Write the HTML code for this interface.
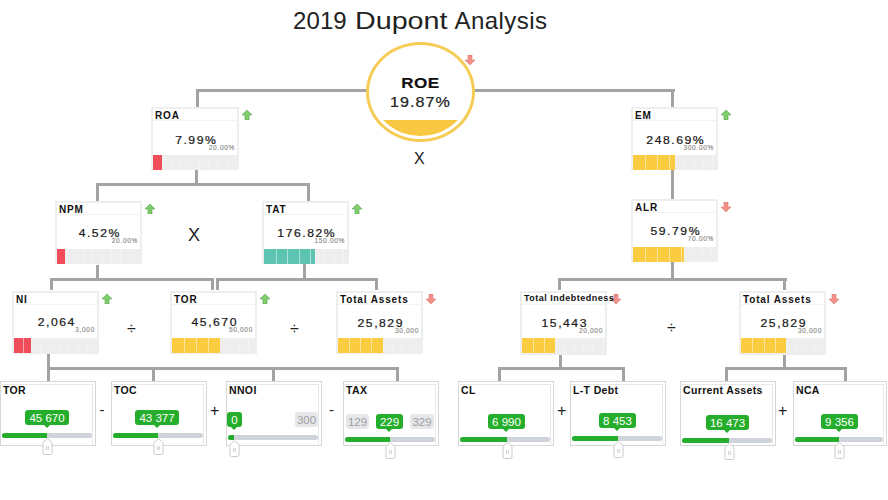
<!DOCTYPE html>
<html><head><meta charset="utf-8"><style>
html,body{margin:0;padding:0;background:#fff;}
body{width:888px;height:500px;position:relative;overflow:hidden;font-family:"Liberation Sans",sans-serif;color:#222;}
.ln{position:absolute;background:#a3a3a3;}
.title{position:absolute;left:293px;top:7px;font-size:24px;color:#222;white-space:nowrap;letter-spacing:1.3px;}
.card{position:absolute;background:#fff;border:2px solid #eeeeee;}
.ttl{position:absolute;left:2px;top:0px;font-weight:bold;color:#111;white-space:nowrap;line-height:13px;letter-spacing:0.85px;}
.dv{position:absolute;left:0;right:0;top:11px;height:1px;background:#f3f3f3;}
.val{position:absolute;left:1.5px;right:0;top:24.5px;text-align:center;font-size:10px;letter-spacing:1.25px;color:#1a1a1a;line-height:14px;-webkit-text-stroke:0.2px #1a1a1a;transform:scaleX(1.22);transform-origin:50% 50%;}
.tgt{position:absolute;right:2px;top:34px;font-size:6.5px;letter-spacing:0.7px;color:#8c8c8c;line-height:8px;-webkit-text-stroke:0.15px #8c8c8c;}
.bar{position:absolute;left:0;right:0;top:46px;height:15px;background:#eeeeee;}
.bf{position:absolute;left:0;top:0;bottom:0;}
.sf{position:absolute;top:0;bottom:0;width:1px;background:rgba(255,255,255,0.5);}
.sg{position:absolute;top:0;bottom:0;width:1px;background:#f3f3f3;}
.arr{position:absolute;}
.bc{position:absolute;background:#fff;border:1px solid #d6d6d6;}
.bci{position:absolute;left:-1px;top:2px;right:2px;bottom:-1px;border-top:1px solid #e8e8e8;border-right:1px solid #e8e8e8;}
.bt{position:absolute;left:2px;top:2px;font-weight:bold;font-size:10.5px;color:#111;line-height:12px;white-space:nowrap;letter-spacing:0.35px;}
.trk{position:absolute;height:5px;border-radius:3px;background:#cfd3da;overflow:hidden;}
.tf{position:absolute;left:0;top:0;bottom:0;background:#25ae2b;}
.hdl{position:absolute;}
.bub,.gl{position:absolute;height:15px;line-height:16px;border-radius:3px;text-align:center;font-size:11.5px;}
.bub{background:#25ae2b;color:#fff;}
.gl{background:#e6e7ea;color:#a0a0a0;}
.tip{position:absolute;width:0;height:0;border-left:3px solid transparent;border-right:3px solid transparent;border-top:3px solid #25ae2b;}
.op{position:absolute;line-height:1;color:#222;}
.roe{position:absolute;left:366px;top:42px;width:109px;height:100px;box-sizing:border-box;border:3.5px solid #f5cc55;border-radius:50%;background:#fff;}
.roefill{position:absolute;left:3px;top:3px;right:3px;bottom:3px;border-radius:50%;overflow:hidden;}
</style></head><body>

<div class="title"><span style="position:absolute;left:0;letter-spacing:0.1px">2019</span><span style="position:absolute;left:62px;display:inline-block;letter-spacing:0;transform:scaleX(1.195);transform-origin:0 0">Dupont</span><span style="position:absolute;left:161.5px;letter-spacing:0.45px">Analysis</span></div>
<div class="ln" style="left:196px;top:89px;width:479px;height:3px"></div>
<div class="ln" style="left:196px;top:89px;width:3px;height:18px"></div>
<div class="ln" style="left:671px;top:89px;width:3px;height:18px"></div>
<div class="ln" style="left:195px;top:170px;width:3px;height:14px"></div>
<div class="ln" style="left:96px;top:183px;width:214px;height:3px"></div>
<div class="ln" style="left:96px;top:183px;width:3px;height:18px"></div>
<div class="ln" style="left:307px;top:183px;width:3px;height:18px"></div>
<div class="ln" style="left:96px;top:265px;width:3px;height:14px"></div>
<div class="ln" style="left:50px;top:278px;width:164px;height:3px"></div>
<div class="ln" style="left:50px;top:278px;width:3px;height:12px"></div>
<div class="ln" style="left:211px;top:278px;width:3px;height:12px"></div>
<div class="ln" style="left:303px;top:264px;width:3px;height:15px"></div>
<div class="ln" style="left:216px;top:278px;width:162px;height:3px"></div>
<div class="ln" style="left:216px;top:278px;width:3px;height:12px"></div>
<div class="ln" style="left:375px;top:278px;width:3px;height:12px"></div>
<div class="ln" style="left:47px;top:353px;width:3px;height:28px"></div>
<div class="ln" style="left:47px;top:367px;width:352px;height:3px"></div>
<div class="ln" style="left:152px;top:367px;width:3px;height:14px"></div>
<div class="ln" style="left:272px;top:367px;width:3px;height:14px"></div>
<div class="ln" style="left:396px;top:367px;width:3px;height:14px"></div>
<div class="ln" style="left:671px;top:170px;width:3px;height:29px"></div>
<div class="ln" style="left:671px;top:262px;width:3px;height:17px"></div>
<div class="ln" style="left:558px;top:278px;width:229px;height:3px"></div>
<div class="ln" style="left:558px;top:278px;width:3px;height:12px"></div>
<div class="ln" style="left:783px;top:278px;width:3px;height:12px"></div>
<div class="ln" style="left:559px;top:355px;width:3px;height:13px"></div>
<div class="ln" style="left:498px;top:367px;width:127px;height:3px"></div>
<div class="ln" style="left:498px;top:367px;width:3px;height:14px"></div>
<div class="ln" style="left:622px;top:367px;width:3px;height:14px"></div>
<div class="ln" style="left:783px;top:355px;width:3px;height:13px"></div>
<div class="ln" style="left:725px;top:367px;width:122px;height:3px"></div>
<div class="ln" style="left:725px;top:367px;width:3px;height:14px"></div>
<div class="ln" style="left:844px;top:367px;width:3px;height:14px"></div>
<div class="roe"><div class="roefill"><div style="position:absolute;left:0;right:0;top:72px;bottom:0;background:#f8c843"></div></div><div style="position:absolute;left:-4px;right:-4px;top:30px;text-align:center;font-weight:bold;font-size:15.5px;letter-spacing:0.4px;color:#111;line-height:16px;transform:scaleX(1.1);-webkit-text-stroke:0.2px #111">ROE</div><div style="position:absolute;left:-4px;right:-4px;top:48.5px;text-align:center;font-size:14px;letter-spacing:0.9px;color:#222;line-height:16px;-webkit-text-stroke:0.2px #222;transform:scaleX(1.15)">19.87%</div></div>
<svg class="arr" style="left:465px;top:55px" width="10" height="10" viewBox="0 0 10 10"><path d="M5 10 L10 5 L7 5 L7 0 L3 0 L3 5 L0 5 Z" fill="#f4908a" stroke="#d87a70" stroke-width="0.6"/></svg>
<div class="op" style="left:414px;top:151px;font-size:16px">X</div>
<svg class="arr" style="left:242px;top:110px" width="10" height="10" viewBox="0 0 10 10"><path d="M5 0 L10 5 L7 5 L7 10 L3 10 L3 5 L0 5 Z" fill="#7ccf68" stroke="#5c9e52" stroke-width="0.6"/></svg>
<div class="card" style="left:151px;top:107px;width:84px;height:59px">
<div class="ttl" style="font-size:10px;top:0px">ROA</div>
<div class="dv"></div>
<div class="val" style="top:24.5px">7.99%</div>
<div class="tgt" style="top:34.5px">20.00%</div>
<div class="bar" style="top:46px;height:15px"><div class="bf" style="width:8.5px;background:#f04d5a"></div>
<i class="sg" style="left:17.8px"></i>
<i class="sg" style="left:27.1px"></i>
<i class="sg" style="left:36.4px"></i>
<i class="sg" style="left:45.7px"></i>
<i class="sg" style="left:55.0px"></i>
<i class="sg" style="left:64.3px"></i>
<i class="sg" style="left:73.6px"></i>
</div>
</div>
<svg class="arr" style="left:721px;top:110px" width="10" height="10" viewBox="0 0 10 10"><path d="M5 0 L10 5 L7 5 L7 10 L3 10 L3 5 L0 5 Z" fill="#7ccf68" stroke="#5c9e52" stroke-width="0.6"/></svg>
<div class="card" style="left:631px;top:107px;width:83px;height:59px">
<div class="ttl" style="font-size:10px;top:0px">EM</div>
<div class="dv"></div>
<div class="val" style="top:24.5px">248.69%</div>
<div class="tgt" style="top:34.5px">300.00%</div>
<div class="bar" style="top:46px;height:15px"><div class="bf" style="width:42px;background:#fbcb40"></div>
<i class="sf" style="left:12.0px"></i>
<i class="sf" style="left:24.0px"></i>
<i class="sf" style="left:36.0px"></i>
<i class="sg" style="left:51.3px"></i>
<i class="sg" style="left:60.6px"></i>
<i class="sg" style="left:69.9px"></i>
<i class="sg" style="left:79.2px"></i>
</div>
</div>
<svg class="arr" style="left:145px;top:204px" width="10" height="10" viewBox="0 0 10 10"><path d="M5 0 L10 5 L7 5 L7 10 L3 10 L3 5 L0 5 Z" fill="#7ccf68" stroke="#5c9e52" stroke-width="0.6"/></svg>
<div class="card" style="left:55px;top:201px;width:83px;height:59px">
<div class="ttl" style="font-size:10px;top:0px">NPM</div>
<div class="dv"></div>
<div class="val" style="top:24.0px">4.52%</div>
<div class="tgt" style="top:34.0px">20.00%</div>
<div class="bar" style="top:46px;height:15px"><div class="bf" style="width:7.5px;background:#f04d5a"></div>
<i class="sg" style="left:16.8px"></i>
<i class="sg" style="left:26.1px"></i>
<i class="sg" style="left:35.4px"></i>
<i class="sg" style="left:44.7px"></i>
<i class="sg" style="left:54.0px"></i>
<i class="sg" style="left:63.3px"></i>
<i class="sg" style="left:72.6px"></i>
</div>
</div>
<div class="op" style="left:188px;top:226px;font-size:18px">X</div>
<svg class="arr" style="left:352px;top:204px" width="10" height="10" viewBox="0 0 10 10"><path d="M5 0 L10 5 L7 5 L7 10 L3 10 L3 5 L0 5 Z" fill="#7ccf68" stroke="#5c9e52" stroke-width="0.6"/></svg>
<div class="card" style="left:262px;top:201px;width:83px;height:59px">
<div class="ttl" style="font-size:10px;top:0px">TAT</div>
<div class="dv"></div>
<div class="val" style="top:24.0px">176.82%</div>
<div class="tgt" style="top:34.0px">150.00%</div>
<div class="bar" style="top:46px;height:15px"><div class="bf" style="width:51px;background:#5dc4b2"></div>
<i class="sf" style="left:11.6px"></i>
<i class="sf" style="left:23.2px"></i>
<i class="sf" style="left:34.8px"></i>
<i class="sf" style="left:46.4px"></i>
<i class="sg" style="left:60.3px"></i>
<i class="sg" style="left:69.6px"></i>
<i class="sg" style="left:78.9px"></i>
</div>
</div>
<svg class="arr" style="left:721px;top:202px" width="10" height="10" viewBox="0 0 10 10"><path d="M5 10 L10 5 L7 5 L7 0 L3 0 L3 5 L0 5 Z" fill="#f4908a" stroke="#d87a70" stroke-width="0.6"/></svg>
<div class="card" style="left:631px;top:199px;width:83px;height:59px">
<div class="ttl" style="font-size:10px;top:0px">ALR</div>
<div class="dv"></div>
<div class="val" style="top:24.0px">59.79%</div>
<div class="tgt" style="top:34.0px">70.00%</div>
<div class="bar" style="top:46px;height:15px"><div class="bf" style="width:50.5px;background:#fbcb40"></div>
<i class="sf" style="left:12.0px"></i>
<i class="sf" style="left:24.0px"></i>
<i class="sf" style="left:36.1px"></i>
<i class="sf" style="left:48.1px"></i>
<i class="sg" style="left:59.8px"></i>
<i class="sg" style="left:69.1px"></i>
<i class="sg" style="left:78.4px"></i>
</div>
</div>
<svg class="arr" style="left:102px;top:294px" width="10" height="10" viewBox="0 0 10 10"><path d="M5 0 L10 5 L7 5 L7 10 L3 10 L3 5 L0 5 Z" fill="#7ccf68" stroke="#5c9e52" stroke-width="0.6"/></svg>
<div class="card" style="left:12px;top:291px;width:83px;height:59px">
<div class="ttl" style="font-size:10px;top:0px">NI</div>
<div class="dv"></div>
<div class="val" style="top:23.0px">2,064</div>
<div class="tgt" style="top:33.0px">3,000</div>
<div class="bar" style="top:45px;height:15px"><div class="bf" style="width:17px;background:#f04d5a"></div>
<i class="sf" style="left:8.5px"></i>
<i class="sg" style="left:26.3px"></i>
<i class="sg" style="left:35.6px"></i>
<i class="sg" style="left:44.9px"></i>
<i class="sg" style="left:54.2px"></i>
<i class="sg" style="left:63.5px"></i>
<i class="sg" style="left:72.8px"></i>
</div>
</div>
<div class="op" style="left:127px;top:320.5px;font-size:16px">÷</div>
<svg class="arr" style="left:260px;top:294px" width="10" height="10" viewBox="0 0 10 10"><path d="M5 0 L10 5 L7 5 L7 10 L3 10 L3 5 L0 5 Z" fill="#7ccf68" stroke="#5c9e52" stroke-width="0.6"/></svg>
<div class="card" style="left:170px;top:291px;width:83px;height:59px">
<div class="ttl" style="font-size:10px;top:0px">TOR</div>
<div class="dv"></div>
<div class="val" style="top:23.0px">45,670</div>
<div class="tgt" style="top:33.0px">50,000</div>
<div class="bar" style="top:45px;height:15px"><div class="bf" style="width:48px;background:#fbcb40"></div>
<i class="sf" style="left:12.0px"></i>
<i class="sf" style="left:24.0px"></i>
<i class="sf" style="left:36.0px"></i>
<i class="sg" style="left:57.3px"></i>
<i class="sg" style="left:66.6px"></i>
<i class="sg" style="left:75.9px"></i>
</div>
</div>
<div class="op" style="left:290px;top:320.5px;font-size:16px">÷</div>
<svg class="arr" style="left:426px;top:294px" width="10" height="10" viewBox="0 0 10 10"><path d="M5 10 L10 5 L7 5 L7 0 L3 0 L3 5 L0 5 Z" fill="#f4908a" stroke="#d87a70" stroke-width="0.6"/></svg>
<div class="card" style="left:336px;top:291px;width:83px;height:59px">
<div class="ttl" style="font-size:10px;top:0px">Total Assets</div>
<div class="dv"></div>
<div class="val" style="top:24.0px">25,829</div>
<div class="tgt" style="top:34.0px">30,000</div>
<div class="bar" style="top:45px;height:15px"><div class="bf" style="width:44.5px;background:#fbcb40"></div>
<i class="sf" style="left:11.1px"></i>
<i class="sf" style="left:22.2px"></i>
<i class="sf" style="left:33.4px"></i>
<i class="sg" style="left:53.8px"></i>
<i class="sg" style="left:63.1px"></i>
<i class="sg" style="left:72.4px"></i>
</div>
</div>
<svg class="arr" style="left:611px;top:294px" width="10" height="10" viewBox="0 0 10 10"><path d="M5 10 L10 5 L7 5 L7 0 L3 0 L3 5 L0 5 Z" fill="#f4908a" stroke="#d87a70" stroke-width="0.6"/></svg>
<div class="card" style="left:520px;top:291px;width:83px;height:60px">
<div class="ttl" style="font-size:9px;top:-1.5px;letter-spacing:0.5px">Total Indebtedness</div>
<div class="dv"></div>
<div class="val" style="top:24.0px">15,443</div>
<div class="tgt" style="top:34.0px">20,000</div>
<div class="bar" style="top:45px;height:15px"><div class="bf" style="width:33px;background:#fbcb40"></div>
<i class="sf" style="left:11.0px"></i>
<i class="sf" style="left:22.0px"></i>
<i class="sg" style="left:42.3px"></i>
<i class="sg" style="left:51.6px"></i>
<i class="sg" style="left:60.9px"></i>
<i class="sg" style="left:70.2px"></i>
<i class="sg" style="left:79.5px"></i>
</div>
</div>
<div class="op" style="left:667px;top:320px;font-size:16px">÷</div>
<svg class="arr" style="left:829px;top:294px" width="10" height="10" viewBox="0 0 10 10"><path d="M5 10 L10 5 L7 5 L7 0 L3 0 L3 5 L0 5 Z" fill="#f4908a" stroke="#d87a70" stroke-width="0.6"/></svg>
<div class="card" style="left:739px;top:291px;width:83px;height:60px">
<div class="ttl" style="font-size:10px;top:0px">Total Assets</div>
<div class="dv"></div>
<div class="val" style="top:24.0px">25,829</div>
<div class="tgt" style="top:34.0px">30,000</div>
<div class="bar" style="top:45px;height:15px"><div class="bf" style="width:45px;background:#fbcb40"></div>
<i class="sf" style="left:11.2px"></i>
<i class="sf" style="left:22.5px"></i>
<i class="sf" style="left:33.8px"></i>
<i class="sg" style="left:54.3px"></i>
<i class="sg" style="left:63.6px"></i>
<i class="sg" style="left:72.9px"></i>
</div>
</div>
<div class="bc" style="left:0px;top:381px;width:94px;height:63px">
<div class="bci"></div>
<div class="bt">TOR</div>
<div class="trk" style="top:51px;left:1px;width:90px"><div class="tf" style="width:45px"></div></div>
<svg class="hdl" style="left:40.5px;top:56px" width="11" height="17" viewBox="0 0 11 17"><path d="M5.5 0.5 L10 4.5 L10 15 Q10 16.5 8.5 16.5 L2.5 16.5 Q1 16.5 1 15 L1 4.5 Z" fill="#fff" stroke="#cccccc" stroke-width="1"/><path d="M4.6 8 V12 M6.4 8 V12" stroke="#c8c8c8" stroke-width="0.9"/></svg>
<div class="bub" style="left:24px;top:28px;width:44px">45 670</div>
<div class="tip" style="left:43px;top:43px"></div>
</div>
<div class="op" style="left:99.5px;top:402px;font-size:15px">-</div>
<div class="bc" style="left:111px;top:381px;width:94px;height:63px">
<div class="bci"></div>
<div class="bt">TOC</div>
<div class="trk" style="top:51px;left:1px;width:90px"><div class="tf" style="width:45px"></div></div>
<svg class="hdl" style="left:40.5px;top:56px" width="11" height="17" viewBox="0 0 11 17"><path d="M5.5 0.5 L10 4.5 L10 15 Q10 16.5 8.5 16.5 L2.5 16.5 Q1 16.5 1 15 L1 4.5 Z" fill="#fff" stroke="#cccccc" stroke-width="1"/><path d="M4.6 8 V12 M6.4 8 V12" stroke="#c8c8c8" stroke-width="0.9"/></svg>
<div class="bub" style="left:23px;top:28px;width:44px">43 377</div>
<div class="tip" style="left:42px;top:43px"></div>
</div>
<div class="op" style="left:210px;top:403px;font-size:16px">+</div>
<div class="bc" style="left:226px;top:381px;width:94px;height:63px">
<div class="bci"></div>
<div class="bt">NNOI</div>
<div class="trk" style="top:53px;left:1px;width:90px"><div class="tf" style="width:6px"></div></div>
<svg class="hdl" style="left:1.5px;top:58px" width="11" height="17" viewBox="0 0 11 17"><path d="M5.5 0.5 L10 4.5 L10 15 Q10 16.5 8.5 16.5 L2.5 16.5 Q1 16.5 1 15 L1 4.5 Z" fill="#fff" stroke="#cccccc" stroke-width="1"/><path d="M4.6 8 V12 M6.4 8 V12" stroke="#c8c8c8" stroke-width="0.9"/></svg>
<div class="bub" style="left:0px;top:30px;width:15px">0</div>
<div class="tip" style="left:4px;top:45px"></div>
<div class="gl" style="left:68px;top:30px;width:23px">300</div>
</div>
<div class="op" style="left:329px;top:402px;font-size:15px">-</div>
<div class="bc" style="left:343px;top:381px;width:94px;height:63px">
<div class="bci"></div>
<div class="bt">TAX</div>
<div class="trk" style="top:55px;left:1px;width:90px"><div class="tf" style="width:45px"></div></div>
<svg class="hdl" style="left:40.5px;top:60px" width="11" height="17" viewBox="0 0 11 17"><path d="M5.5 0.5 L10 4.5 L10 15 Q10 16.5 8.5 16.5 L2.5 16.5 Q1 16.5 1 15 L1 4.5 Z" fill="#fff" stroke="#cccccc" stroke-width="1"/><path d="M4.6 8 V12 M6.4 8 V12" stroke="#c8c8c8" stroke-width="0.9"/></svg>
<div class="gl" style="left:2px;top:32px;width:23px">129</div>
<div class="bub" style="left:32px;top:32px;width:27px">229</div>
<div class="tip" style="left:42px;top:47px"></div>
<div class="gl" style="left:66px;top:32px;width:24px">329</div>
</div>
<div class="bc" style="left:458px;top:381px;width:94px;height:63px">
<div class="bci"></div>
<div class="bt">CL</div>
<div class="trk" style="top:55px;left:1px;width:90px"><div class="tf" style="width:47px"></div></div>
<svg class="hdl" style="left:42.5px;top:60px" width="11" height="17" viewBox="0 0 11 17"><path d="M5.5 0.5 L10 4.5 L10 15 Q10 16.5 8.5 16.5 L2.5 16.5 Q1 16.5 1 15 L1 4.5 Z" fill="#fff" stroke="#cccccc" stroke-width="1"/><path d="M4.6 8 V12 M6.4 8 V12" stroke="#c8c8c8" stroke-width="0.9"/></svg>
<div class="bub" style="left:29px;top:32px;width:37px">6 990</div>
<div class="tip" style="left:44px;top:47px"></div>
</div>
<div class="op" style="left:557px;top:403px;font-size:16px">+</div>
<div class="bc" style="left:570px;top:381px;width:94px;height:63px">
<div class="bci"></div>
<div class="bt">L-T Debt</div>
<div class="trk" style="top:54px;left:1px;width:90px"><div class="tf" style="width:46px"></div></div>
<svg class="hdl" style="left:41.5px;top:59px" width="11" height="17" viewBox="0 0 11 17"><path d="M5.5 0.5 L10 4.5 L10 15 Q10 16.5 8.5 16.5 L2.5 16.5 Q1 16.5 1 15 L1 4.5 Z" fill="#fff" stroke="#cccccc" stroke-width="1"/><path d="M4.6 8 V12 M6.4 8 V12" stroke="#c8c8c8" stroke-width="0.9"/></svg>
<div class="bub" style="left:28px;top:31px;width:37px">8 453</div>
<div class="tip" style="left:43px;top:46px"></div>
</div>
<div class="bc" style="left:680px;top:381px;width:94px;height:63px">
<div class="bci"></div>
<div class="bt">Current Assets</div>
<div class="trk" style="top:56px;left:1px;width:90px"><div class="tf" style="width:47px"></div></div>
<svg class="hdl" style="left:42.5px;top:61px" width="11" height="17" viewBox="0 0 11 17"><path d="M5.5 0.5 L10 4.5 L10 15 Q10 16.5 8.5 16.5 L2.5 16.5 Q1 16.5 1 15 L1 4.5 Z" fill="#fff" stroke="#cccccc" stroke-width="1"/><path d="M4.6 8 V12 M6.4 8 V12" stroke="#c8c8c8" stroke-width="0.9"/></svg>
<div class="bub" style="left:25px;top:33px;width:43px">16 473</div>
<div class="tip" style="left:43px;top:48px"></div>
</div>
<div class="op" style="left:778px;top:403px;font-size:16px">+</div>
<div class="bc" style="left:793px;top:381px;width:92px;height:63px">
<div class="bci"></div>
<div class="bt">NCA</div>
<div class="trk" style="top:55px;left:1px;width:88px"><div class="tf" style="width:44px"></div></div>
<svg class="hdl" style="left:39.5px;top:60px" width="11" height="17" viewBox="0 0 11 17"><path d="M5.5 0.5 L10 4.5 L10 15 Q10 16.5 8.5 16.5 L2.5 16.5 Q1 16.5 1 15 L1 4.5 Z" fill="#fff" stroke="#cccccc" stroke-width="1"/><path d="M4.6 8 V12 M6.4 8 V12" stroke="#c8c8c8" stroke-width="0.9"/></svg>
<div class="bub" style="left:27px;top:32px;width:37px">9 356</div>
<div class="tip" style="left:42px;top:47px"></div>
</div>
</body></html>
